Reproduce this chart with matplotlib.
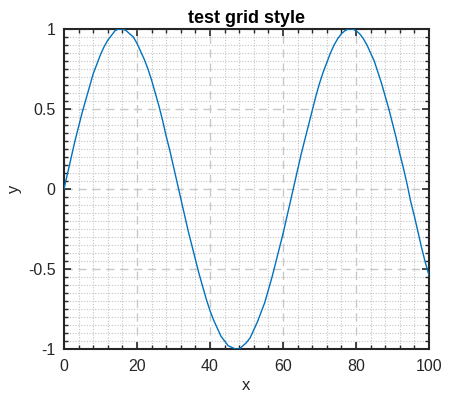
import numpy as np
import matplotlib
matplotlib.use('Agg')
import matplotlib.pyplot as plt
from matplotlib.ticker import MultipleLocator

plt.rcParams['font.family'] = ['Liberation Sans', 'DejaVu Sans']

# values, one per unit of x
x = list(range(0, 101))
y = [0.00, 0.10, 0.20, 0.30, 0.39, 0.48, 0.56, 0.64, 0.72, 0.78,
     0.84, 0.89, 0.93, 0.96, 0.99, 1.00, 1.00, 0.99, 0.97, 0.95,
     0.91, 0.86, 0.81, 0.75, 0.68, 0.60, 0.52, 0.43, 0.33, 0.24,
     0.14, 0.04, -0.06, -0.16, -0.26, -0.35, -0.44, -0.53, -0.61, -0.69,
     -0.76, -0.82, -0.87, -0.92, -0.95, -0.98, -0.99, -1.00, -1.00, -0.98,
     -0.96, -0.93, -0.88, -0.83, -0.77, -0.71, -0.63, -0.55, -0.46, -0.37,
     -0.28, -0.18, -0.08, 0.02, 0.12, 0.22, 0.31, 0.40, 0.49, 0.58,
     0.66, 0.73, 0.79, 0.85, 0.90, 0.94, 0.97, 0.99, 1.00, 1.00,
     0.99, 0.97, 0.94, 0.90, 0.85, 0.80, 0.73, 0.66, 0.58, 0.50,
     0.41, 0.32, 0.22, 0.13, 0.03, -0.08, -0.17, -0.27, -0.37, -0.46,
     -0.54]
xticks = [0, 20, 40, 60, 80, 100]
yticks = [-1, -0.5, 0, 0.5, 1]
yticklabels = ['-1', '-0.5', '0', '0.5', '1']

fig = plt.figure(figsize=(4.74, 3.95), dpi=100)
ax = fig.add_axes([64/474, 1 - 349/395, 365/474, 320/395])

ax.plot(x, y, color='#0072BD', lw=1.0, zorder=3)

ax.set_xlim(0, 100)
ax.set_ylim(-1, 1)
ax.set_xticks(xticks)
ax.set_yticks(yticks)
ax.set_yticklabels(yticklabels)
ax.xaxis.set_minor_locator(MultipleLocator(4))
ax.yaxis.set_minor_locator(MultipleLocator(0.05))

ax.grid(which='major', color='#c8c8c8', linestyle=(0, (6, 4)), lw=1.0, zorder=1)
ax.grid(which='minor', color='#c4c4c4', linestyle=(0, (1, 1.5)), lw=0.8, zorder=0)
ax.set_axisbelow(True)

ax.tick_params(which='both', direction='in', top=True, right=True,
               labelsize=11.5, colors='#262626', labelcolor='#262626')
ax.tick_params(which='major', length=5, width=1.2)
ax.tick_params(axis='x', which='major', pad=7)
ax.tick_params(axis='y', which='major', pad=6)
ax.tick_params(which='minor', length=3, width=1.0)
for s in ax.spines.values():
    s.set_linewidth(1.5)
    s.set_color('#262626')

ax.set_xlabel('x', fontsize=12, color='#262626', labelpad=3)
ax.set_ylabel('y', fontsize=12, color='#262626', labelpad=4)
ax.set_title('test grid style', fontsize=13, fontweight='bold', pad=4)

fig.savefig('out.png', dpi=100)
